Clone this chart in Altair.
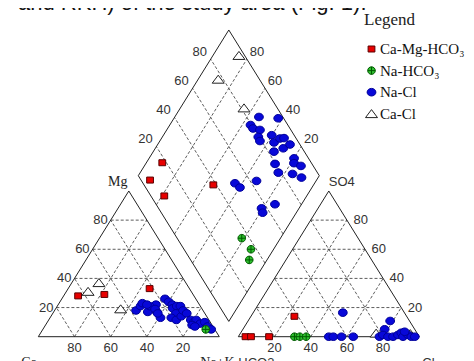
import altair as alt
import pandas as pd

TYPES = ["Ca-Mg-HCO₃", "Na-HCO₃", "Na-Cl", "Ca-Cl"]

# ---------- cation triangle: Ca %, Mg % ----------
cation_red_ca = [64, 49, 22]
cation_red_mg = [28, 29, 33]
cation_green_ca = [5]
cation_green_mg = [5]
cation_blue_ca = [37, 33, 31, 24, 26, 26, 31, 28, 26, 26, 29, 17, 16, 15, 16, 13, 11, 16, 20, 18,
                  14, 11, 10, 10, 9, 7, 6, 3, 3, 2, 11, 10]
cation_blue_mg = [18, 21, 17, 22, 17, 13, 23, 21, 19, 16, 22, 26, 24, 22, 19.5, 21, 21, 16, 13, 11.5,
                  14, 18, 16, 11.5, 10, 11.5, 9, 10, 7, 5, 8, 7]
cation_tri_ca = [48, 57, 45]
cation_tri_mg = [37, 31, 19]

# ---------- anion triangle: Cl %, SO4 % ----------
anion_red_cl = [4, 7, 17, 24]
anion_red_so4 = [0, 0, 0, 14]
anion_green_cl = [31, 34, 37.5]
anion_green_so4 = [0, 0, 0]
anion_blue_cl = [50, 52.5, 57, 63.5, 49.5, 78.5, 78.3, 78, 79.3, 82.7, 85.5, 87.6, 88.7, 91, 93.2,
                 95.6, 97.5, 90.2]
anion_blue_so4 = [0, 0, 0, 0, 16.5, 10.8, 5.1, 0, 1.2, 0, 0, 1.2, 2.7, 0, 1.2, 0, 0, 3.4]
anion_tri_cl = [75, 80, 94]
anion_tri_so4 = [2.3, 1.5, 2]

# ---------- diamond: SO4+Cl %, Ca+Mg % ----------
diamond_red_s = [17.7, 5, 7.4, 38.3]
diamond_red_c = [91.2, 92, 78.7, 55.4]
diamond_tri_s = [96.8, 77.2, 81.6]
diamond_tri_c = [85.6, 88.9, 64.8]
diamond_green_s = [35.7, 37, 32.4]
diamond_green_c = [21.4, 12.5, 9.8]
diamond_blue_s = [86.8, 97.0, 79.4, 79.6, 82.9, 79.6, 79.1, 87.6, 86.4, 91.0, 93.4, 89.5, 94.5, 83.2,
                  92.0, 90.3, 93.2, 79.6, 78.4, 85.8, 89.5, 63.5, 50.8, 52.1, 65.7, 56.9, 56.0]
diamond_blue_c = [53.5, 42.4, 55.4, 52.8, 48.5, 47.0, 44.7, 40.2, 36.4, 34.5, 32.4, 29.3, 26.9, 33.3,
                  19.9, 18.3, 13.5, 28.5, 23.7, 15.4, 9.2, 32.9, 44.0, 39.8, 14.7, 20.7, 18.6]

ticks = [20, 40, 60, 80]

# ---------- geometry ----------
S3 = 3 ** 0.5 / 2
GAP = 10.5
OX = 100 + GAP
BX, BY = 100 + GAP / 2, GAP * S3

rows = []
def add(panel, typ, a_list, b_list):
    for a, b in zip(a_list, b_list):
        rows.append({"panel": panel, "type": typ, "a": a, "b": b})

# draw order: triangles, blue, red, green
add("cation", "Ca-Cl", cation_tri_ca, cation_tri_mg)
add("anion", "Ca-Cl", anion_tri_cl, anion_tri_so4)
add("diamond", "Ca-Cl", diamond_tri_s, diamond_tri_c)
add("cation", "Na-Cl", cation_blue_ca, cation_blue_mg)
add("anion", "Na-Cl", anion_blue_cl, anion_blue_so4)
add("diamond", "Na-Cl", diamond_blue_s, diamond_blue_c)
add("cation", "Ca-Mg-HCO₃", cation_red_ca, cation_red_mg)
add("anion", "Ca-Mg-HCO₃", anion_red_cl, anion_red_so4)
add("diamond", "Ca-Mg-HCO₃", diamond_red_s, diamond_red_c)
add("cation", "Na-HCO₃", cation_green_ca, cation_green_mg)
add("anion", "Na-HCO₃", anion_green_cl, anion_green_so4)
add("diamond", "Na-HCO₃", diamond_green_s, diamond_green_c)
pts = pd.DataFrame(rows)
pts["order"] = range(len(pts))

outline = []
def seg(lst, p, q):
    lst.append({"u": p[0], "v": p[1], "u2": q[0], "v2": q[1]})

for ox in (0, OX):
    A, B, C = (ox, 0), (ox + 100, 0), (ox + 50, 100 * S3)
    seg(outline, A, B); seg(outline, B, C); seg(outline, C, A)
D = [(BX, BY), (BX + 50, BY + 100 * S3), (BX, BY + 200 * S3), (BX - 50, BY + 100 * S3)]
for i in range(4):
    seg(outline, D[i], D[(i + 1) % 4])

grid = []
for k in ticks:
    for ox in (0, OX):
        seg(grid, (ox + k / 2, k * S3), (ox + 100 - k / 2, k * S3))
        seg(grid, (ox + 100 - k, 0), (ox + (100 - k) / 2, (100 - k) * S3))
        seg(grid, (ox + k, 0), (ox + k + (100 - k) / 2, (100 - k) * S3))
    seg(grid, (BX + 0.5 * k, BY + S3 * k), (BX + 0.5 * (k - 100), BY + S3 * (k + 100)))
    seg(grid, (BX - 0.5 * k, BY + S3 * k), (BX + 0.5 * (100 - k), BY + S3 * (100 + k)))

outline_df = pd.DataFrame(outline)
grid_df = pd.DataFrame(grid)

xs = alt.Scale(domain=[0, 100], range=[30.3, 211.3], nice=False, zero=False)
ys = alt.Scale(domain=[0, 86.6], range=[328.7, 183.0], nice=False, zero=False)
X = alt.X("u:Q", scale=xs, axis=None)
Y = alt.Y("v:Q", scale=ys, axis=None)

outline_layer = alt.Chart(outline_df).mark_rule(color="#222", strokeWidth=1).encode(
    x=X, y=Y, x2="u2:Q", y2="v2:Q")
grid_layer = alt.Chart(grid_df).mark_rule(color="#333", strokeWidth=0.8, strokeDash=[3, 2]).encode(
    x=X, y=Y, x2="u2:Q", y2="v2:Q")

def lab_df(kind):
    out = []
    for k in ticks:
        if kind == "lb":
            out.append({"u": 100 - k, "v": 0, "t": str(k)})
        elif kind == "ls":
            out.append({"u": k / 2, "v": k * S3, "t": str(k)})
        elif kind == "rb":
            out.append({"u": OX + k, "v": 0, "t": str(k)})
        elif kind == "rs":
            out.append({"u": OX + 100 - k / 2, "v": k * S3, "t": str(k)})
        elif kind == "dl":
            out.append({"u": BX + 0.5 * (k - 100), "v": BY + S3 * (k + 100), "t": str(k)})
        elif kind == "dr":
            out.append({"u": BX + 0.5 * (100 - k), "v": BY + S3 * (100 + k), "t": str(k)})
    return pd.DataFrame(out)

tick_style = dict(font="Liberation Sans", fontSize=13, color="#333", baseline="middle")
tick_layers = [
    alt.Chart(lab_df("lb")).mark_text(align="center", dy=11.6, **tick_style).encode(x=X, y=Y, text="t:N"),
    alt.Chart(lab_df("ls")).mark_text(align="right", dx=-3, **tick_style).encode(x=X, y=Y, text="t:N"),
    alt.Chart(lab_df("rb")).mark_text(align="center", dy=11.6, **tick_style).encode(x=X, y=Y, text="t:N"),
    alt.Chart(lab_df("rs")).mark_text(align="left", dx=6.5, **tick_style).encode(x=X, y=Y, text="t:N"),
    alt.Chart(lab_df("dl")).mark_text(align="center", dx=-11, dy=-7.5, **tick_style).encode(x=X, y=Y, text="t:N"),
    alt.Chart(lab_df("dr")).mark_text(align="center", dx=10, dy=-7.5, **tick_style).encode(x=X, y=Y, text="t:N"),
]

corner_serif = pd.DataFrame([{"u": 50, "v": 100 * S3, "t": "Mg"}])
corner_sans = pd.DataFrame([{"u": OX + 50, "v": 100 * S3, "t": "SO4"}])
corner_layers = [
    alt.Chart(corner_serif).mark_text(font="Liberation Serif", fontSize=14, color="#222",
                                      align="center", baseline="middle", dx=-11, dy=-9).encode(x=X, y=Y, text="t:N"),
    alt.Chart(corner_sans).mark_text(font="Liberation Sans", fontSize=13, color="#333",
                                     align="center", baseline="middle", dx=13, dy=-9).encode(x=X, y=Y, text="t:N"),
]
bottom_serif = pd.DataFrame([{"u": 0, "v": 0, "t": "Ca"}, {"u": 100, "v": 0, "t": "Na+K"}])
bottom_sans = pd.DataFrame([{"u": OX, "v": 0, "t": "HCO3"}, {"u": OX + 100, "v": 0, "t": "Cl"}])
bottom_layers = [
    alt.Chart(bottom_serif.iloc[[0]]).mark_text(font="Liberation Serif", fontSize=14, color="#222",
        align="left", baseline="alphabetic", dx=-17, dy=30).encode(x=X, y=Y, text="t:N"),
    alt.Chart(bottom_serif.iloc[[1]]).mark_text(font="Liberation Serif", fontSize=14, color="#222",
        align="left", baseline="alphabetic", dx=-19, dy=30).encode(x=X, y=Y, text="t:N"),
    alt.Chart(bottom_sans.iloc[[0]]).mark_text(font="Liberation Sans", fontSize=13, color="#333",
        align="left", baseline="alphabetic", dx=0, dy=30).encode(x=X, y=Y, text="t:N"),
    alt.Chart(bottom_sans.iloc[[1]]).mark_text(font="Liberation Sans", fontSize=13, color="#333",
        align="left", baseline="alphabetic", dx=3, dy=30).encode(x=X, y=Y, text="t:N"),
]

top_text = alt.Chart(pd.DataFrame({"t": ["and RKH) of the study area (Fig. 1)."]})).mark_text(
    font="Liberation Sans", fontSize=22, color="#111", align="left", baseline="alphabetic"
).encode(x=alt.value(10), y=alt.value(1.5), text="t:N")

SHAPES = [
    "M-0.85,-0.75H0.85V0.75H-0.85Z",
    "M-0.95,0A0.95,0.95,0,1,1,0.95,0A0.95,0.95,0,1,1,-0.95,0ZM-0.95,0L0.95,0M0,-0.95L0,0.95",
    "M-1.1,0A1.1,0.95,0,1,1,1.1,0A1.1,0.95,0,1,1,-1.1,0Z",
    "M0,-1.05L1.5,0.95L-1.5,0.95Z",
]
FILLS = ["#e80000", "#2fbf2f", "#0808d8", "#ffffff"]
STROKES = ["#5a0000", "#005a00", "#00009a", "#222222"]

leg = alt.Legend(title="Legend", orient="none", legendX=356, legendY=4,
                 titleFont="Liberation Serif", titleFontSize=17, titleFontWeight="normal",
                 titleColor="#222", titlePadding=12.5, labelFont="Liberation Serif",
                 labelFontSize=15, labelColor="#111", labelOffset=1, rowPadding=5.6,
                 symbolSize=64, symbolStrokeWidth=1, padding=0)

points = alt.Chart(pts).mark_point(filled=True, opacity=1, size=64, strokeWidth=1).transform_calculate(
    u="datum.panel == 'cation' ? (100 - datum.a - datum.b) + datum.b / 2 : "
      "(datum.panel == 'anion' ? %f + datum.a + datum.b / 2 : %f + (datum.a - datum.b) / 2)" % (OX, BX),
    v="datum.panel == 'diamond' ? %f + %f * (datum.a + datum.b) : %f * datum.b" % (BY, S3, S3),
).encode(
    x=X, y=Y,
    fill=alt.Fill("type:N", scale=alt.Scale(domain=TYPES, range=FILLS), legend=leg),
    stroke=alt.Stroke("type:N", scale=alt.Scale(domain=TYPES, range=STROKES), legend=leg),
    shape=alt.Shape("type:N", scale=alt.Scale(domain=TYPES, range=SHAPES), legend=leg),
    order=alt.Order("order:Q"),
)

chart = alt.layer(grid_layer, outline_layer, *tick_layers, *corner_layers, *bottom_layers,
                  top_text, points).properties(
    width=458, height=353, padding=0, autosize=alt.AutoSizeParams(type="none"),
    background="white",
).configure_view(strokeWidth=0)

chart.save("out.html", embed_options={"renderer": "svg", "actions": False})
